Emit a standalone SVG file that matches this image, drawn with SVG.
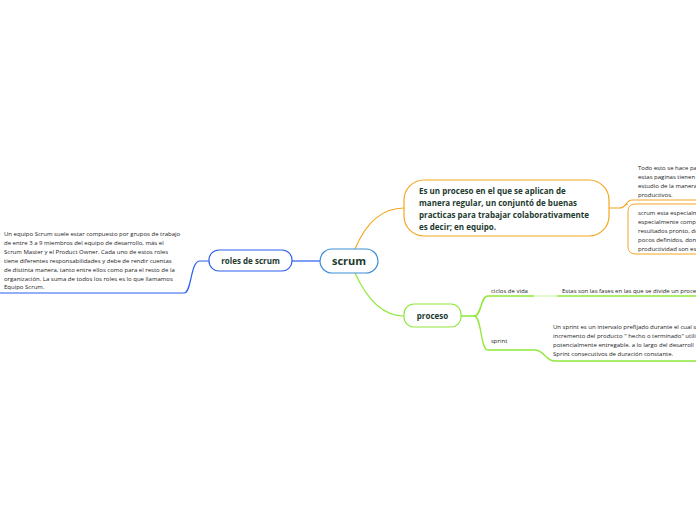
<svg xmlns="http://www.w3.org/2000/svg" width="696" height="520" viewBox="0 0 696 520">
<style>
.t{font-family:"Open Sans","Noto Sans",sans-serif;font-size:6px;fill:#222}
.b{font-family:"Open Sans","Noto Sans",sans-serif;font-weight:bold;fill:#1d3a2e}
.o{fill:none;stroke:#f5a623}
.g{fill:none;stroke:#8fe83a}
</style>
<rect width="696" height="520" fill="#fff"/>
<g id="connectors" fill="none">
<path d="M320 261 H292" stroke="#2a5ef0" stroke-width="1.2"/>
<path d="M209 261 H200 C190 261 192 293 184 293 H0" stroke="#2a5ef0" stroke-width="1.2"/>
<path d="M355 249 C365 225 380 208 404 208" class="o" stroke-width="1.2"/>
<path d="M609 208 H620 C626 208 626 200 632 200 H696" class="o" stroke-width="1.2"/>
<path d="M620 208 C624 208 625 204 628 204 M696 204 H636 C630 204 628 207 628 212 V246 C628 251 630 254 636 254 H696" class="o" stroke-width="1"/>
<path d="M355 273 C365 295 380 316 404 316" class="g" stroke-width="1.2"/>
<path d="M461 316 H474 C482 316 480 296 488 296 H534" class="g" stroke-width="1.5"/>
<path d="M534 296 H557" stroke="#d8f5c0" stroke-width="1.5"/>
<path d="M557 296 H696" class="g" stroke-width="1.5"/>
<path d="M474 316 C482 316 480 350 488 350 H534 C545 350 545 361 555 361 H696" class="g" stroke-width="1.3"/>
</g>
<g id="scrum"><rect x="320" y="249" width="58" height="24" rx="12" fill="#fff" stroke="#3d8fd6" stroke-width="1.2"/><text x="349" y="265" text-anchor="middle" class="b" font-size="11" fill="#1a2f4a">scrum</text></g>
<g id="roles"><rect x="209" y="250" width="83" height="21" rx="10" fill="#fff" stroke="#2a5ef0" stroke-width="1.2"/><text x="250.5" y="264" text-anchor="middle" class="b" font-size="8">roles de scrum</text></g>
<g id="roles-text"><text class="t"><tspan x="4" y="236">Un equipo Scrum suele estar compuesto por grupos de trabajo</tspan><tspan x="4" y="245">de entre 3 a 9 miembros del equipo de desarrollo, más el</tspan><tspan x="4" y="254">Scrum Master y el Product Owner. Cada uno de estos roles</tspan><tspan x="4" y="263">tiene diferentes responsabilidades y debe de rendir cuentas</tspan><tspan x="4" y="272">de distinta manera, tanto entre ellos como para el resto de la</tspan><tspan x="4" y="281">organización. La suma de todos los roles es lo que llamamos</tspan><tspan x="4" y="289">Equipo Scrum.</tspan></text></g>
<g id="def"><rect x="404" y="180" width="205" height="56" rx="20" fill="#fff" stroke="#f5a623" stroke-width="1.2"/><text class="b" font-size="8"><tspan x="419" y="194">Es un proceso en el que se aplican de</tspan><tspan x="419" y="206">manera regular, un conjuntó de buenas</tspan><tspan x="419" y="218">practicas para trabajar colaborativamente</tspan><tspan x="419" y="230">es decir; en equipo.</tspan></text></g>
<g id="def-text1"><text class="t"><tspan x="638" y="170">Todo esto se hace pa</tspan><tspan x="638" y="179">estas paginas tienen</tspan><tspan x="638" y="188">estudio de la manera</tspan><tspan x="638" y="197">productivos.</tspan></text></g>
<g id="def-text2"><text class="t"><tspan x="638" y="215">scrum esta especialm</tspan><tspan x="638" y="224">especialmente comp</tspan><tspan x="638" y="233">resultados pronto, do</tspan><tspan x="638" y="242">pocos definidos, don</tspan><tspan x="638" y="251">productividad son es</tspan></text></g>
<g id="proceso"><rect x="404" y="304" width="57" height="23" rx="10" fill="#fff" stroke="#8fe83a" stroke-width="1.2"/><text x="432.5" y="319" text-anchor="middle" class="b" font-size="8">proceso</text></g>
<g id="ciclos"><text x="491" y="293" class="t">ciclos de vida</text><text x="562" y="293" class="t">Estas son las fases en las que se divide un proce</text></g>
<g id="sprint"><text x="491" y="343" class="t">sprint</text><text class="t"><tspan x="553" y="329">Un sprint es un intervalo prefijado durante el cual s</tspan><tspan x="553" y="338">incremento del producto " hecho o terminado" utili</tspan><tspan x="553" y="347">potencialmente entregable. a  lo largo del desarroll</tspan><tspan x="553" y="356">Sprint consecutivos de duración constante.</tspan></text></g>
</svg>
